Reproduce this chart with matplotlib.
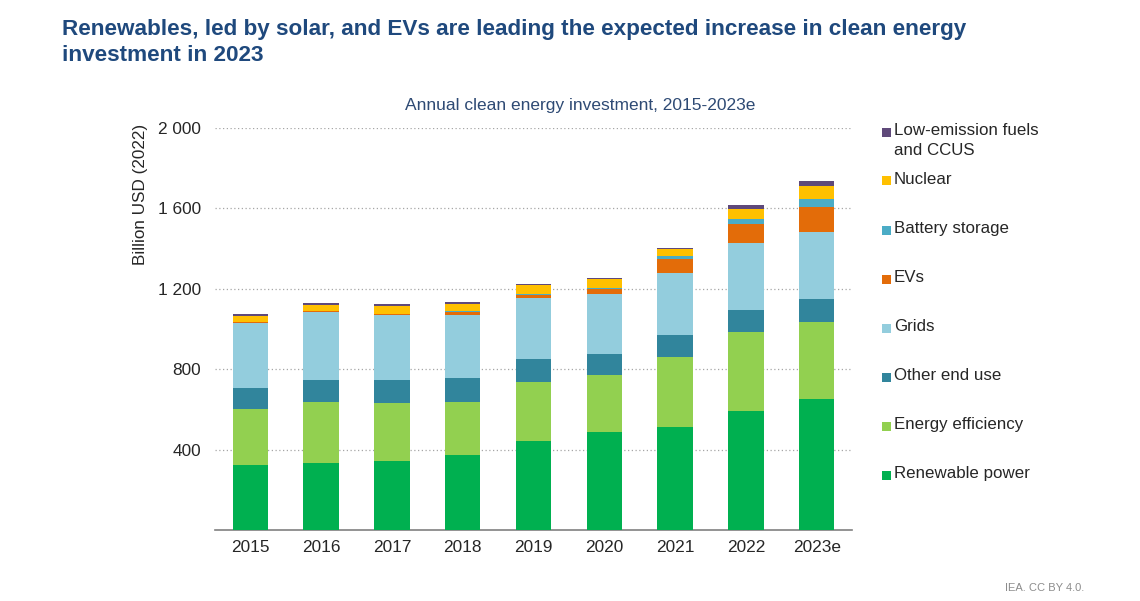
import numpy as np
import matplotlib
matplotlib.use("Agg")
import matplotlib.pyplot as plt
from matplotlib.patches import Rectangle
from matplotlib.ticker import FuncFormatter

plt.rcParams['font.family'] = ['Liberation Sans', 'DejaVu Sans']

years = ["2015", "2016", "2017", "2018", "2019", "2020", "2021", "2022", "2023e"]

# billion USD (2022)
renewable = np.array([323, 335, 345, 372, 444, 488, 512, 592, 653])
efficiency = np.array([277, 303, 288, 265, 294, 282, 350, 392, 380])
other_end_use = np.array([106, 107, 112, 118, 113, 106, 110, 110, 115])
grids = np.array([325, 340, 325, 313, 302, 298, 308, 335, 335])
evs = np.array([2, 3, 6, 18, 18, 25, 67, 93, 125])
battery = np.array([1, 1, 1, 2, 3, 3, 16, 24, 37])
nuclear = np.array([31, 32, 39, 36, 43, 45, 33, 52, 66])
low_emission = np.array([8, 10, 8, 10, 8, 8, 8, 17, 27])

series = [
    ("Renewable power", renewable, "#00b050"),
    ("Energy efficiency", efficiency, "#92d050"),
    ("Other end use", other_end_use, "#31859c"),
    ("Grids", grids, "#93cddd"),
    ("EVs", evs, "#e36c09"),
    ("Battery storage", battery, "#4bacc6"),
    ("Nuclear", nuclear, "#ffc000"),
    ("Low-emission fuels\nand CCUS", low_emission, "#5f497a"),
]

fig = plt.figure(figsize=(11.4, 6.01), dpi=100)
ax = fig.add_axes([0.1886, 0.1181, 0.5588, 0.6689])

x = np.arange(len(years))
bottom = np.zeros(len(years))
for name, vals, col in series:
    ax.bar(x, vals, bottom=bottom, width=0.5, color=col, linewidth=0, zorder=3)
    bottom += vals

ax.set_xlim(-0.5, 8.5)
ax.set_ylim(0, 2000)
ax.set_yticks([400, 800, 1200, 1600, 2000])
ax.yaxis.set_major_formatter(FuncFormatter(lambda v, p: f"{int(v):,}".replace(",", " ")))
ax.set_xticks(x)
ax.set_xticklabels(years)
ax.tick_params(length=0, labelsize=12.4, labelcolor="#262626", pad=7)
ax.tick_params(axis="y", pad=10)
ax.grid(axis="y", color="#a6a6a6", linestyle=(0, (1, 2)), linewidth=0.9, zorder=0)
for s in ["top", "right", "left"]:
    ax.spines[s].set_visible(False)
ax.spines["bottom"].set_color("#808080")
ax.spines["bottom"].set_linewidth(1.2)

# titles
fig.text(0.0544, 1 - 19 / 601, "Renewables, led by solar, and EVs are leading the expected increase in clean energy\ninvestment in 2023",
         fontsize=16.2, fontweight="bold", color="#1f497d", va="top", ha="left", linespacing=1.32)
fig.text(580 / 1140, 1 - 105 / 601, "Annual clean energy investment, 2015-2023e", fontsize=12.5,
         color="#2e4a74", ha="center", va="center")
fig.text(0.123, 1 - 124 / 601, "Billion USD (2022)", rotation=90, fontsize=12.3,
         color="#262626", ha="center", va="top")
fig.text(0.951, 1 - 588 / 601, "IEA. CC BY 4.0.", fontsize=8, color="#8c8c8c", ha="right", va="center")

# legend, top entry first
W, H = 1140, 601
for i, (name, vals, col) in enumerate(series[::-1]):
    yc = 132 + 49 * i
    fig.patches.append(Rectangle((882 / W, 1 - (yc + 4.5) / H), 9 / W, 9 / H,
                                 transform=fig.transFigure, color=col, linewidth=0))
    fig.text(894 / W, 1 - (yc - 9) / H, name, fontsize=12.2, color="#262626",
             ha="left", va="top", linespacing=1.4)

fig.savefig("out.png", dpi=100)
